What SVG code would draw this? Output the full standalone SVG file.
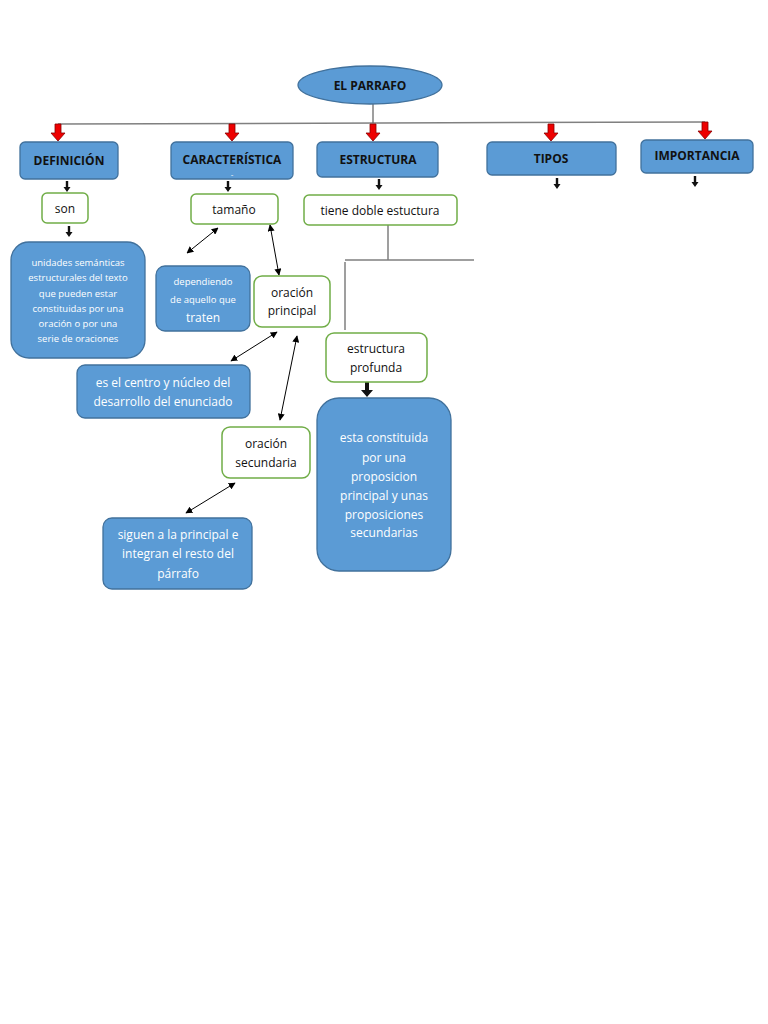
<svg xmlns="http://www.w3.org/2000/svg" width="768" height="1024" viewBox="0 0 768 1024">
<style>
text{font-family:"Open Sans","Liberation Sans",sans-serif;text-anchor:middle}
.b{fill:#5b9bd5;stroke:#41719c;stroke-width:1.3}
.g{fill:#fff;stroke:#70ad47;stroke-width:1.5}
.h{font-size:12px;font-weight:bold;fill:#111}
.w{fill:#fff}
.k{fill:#111}
.ln{stroke:#808080;stroke-width:1.5;fill:none}
.da{stroke:#000;stroke-width:1;marker-start:url(#ah);marker-end:url(#ah)}
</style>
<defs>
<marker id="ah" viewBox="0 0 10 10" refX="9" refY="5" markerWidth="7" markerHeight="7" orient="auto-start-reverse"><path d="M0,0L10,5L0,10z" fill="#000"/></marker>
<g id="ra"><path d="M-3,0h6v9h4l-7,8l-7,-8h4z" fill="#e00" stroke="#800" stroke-width="0.8"/></g>
<g id="ba"><path d="M-1.2,0h2.4v6h2.3l-3.5,5l-3.5,-5h2.3z" fill="#111"/></g>
</defs>
<rect width="768" height="1024" fill="#fff"/>
<g id="connectors">
<path class="ln" d="M373,104V124M58,124L705,122M388,225V260M345,260H474M345,262V330"/>
<use href="#ra" x="58" y="124"/><use href="#ra" x="232" y="124"/><use href="#ra" x="373" y="124"/><use href="#ra" x="551" y="124"/><use href="#ra" x="705" y="122"/>
<use href="#ba" x="67" y="181"/><use href="#ba" x="228" y="181"/><use href="#ba" x="379" y="179"/><use href="#ba" x="557" y="178"/><use href="#ba" x="695" y="176"/><use href="#ba" x="69" y="226"/>
<path d="M365,382h4v8h4l-6,7l-6,-7h4z" fill="#111"/>
<line class="da" x1="187" y1="253" x2="218" y2="228"/>
<line class="da" x1="270" y1="225" x2="279" y2="275"/>
<line class="da" x1="231" y1="361" x2="277" y2="332"/>
<line class="da" x1="297" y1="336" x2="280" y2="420"/>
<line class="da" x1="186" y1="513" x2="235" y2="483"/>
</g>
<g id="n-root"><ellipse class="b" cx="370" cy="85" rx="72" ry="19"/><text class="h" x="370" y="90">EL PARRAFO</text></g>
<g id="n-def"><rect class="b" x="20" y="142" width="98" height="37" rx="5"/><text class="h" x="69" y="165">DEFINICIÓN</text></g>
<g id="n-car"><rect class="b" x="171" y="142" width="122" height="37" rx="5"/><text class="h" x="232" y="164">CARACTERÍSTICA</text><text class="w" x="232" y="177" font-size="8">-</text></g>
<g id="n-est"><rect class="b" x="317" y="142" width="121" height="35" rx="5"/><text class="h" x="378" y="164">ESTRUCTURA</text></g>
<g id="n-tip"><rect class="b" x="487" y="142" width="129" height="33" rx="5"/><text class="h" x="551" y="163">TIPOS</text></g>
<g id="n-imp"><rect class="b" x="641" y="140" width="112" height="33" rx="5"/><text class="h" x="697" y="160">IMPORTANCIA</text></g>
<g id="n-son"><rect class="g" x="42" y="193" width="46" height="30" rx="5"/><text class="k" x="65" y="213" font-size="12">son</text></g>
<g id="n-tam"><rect class="g" x="191" y="194" width="87" height="30" rx="5"/><text class="k" x="234" y="214" font-size="12">tamaño</text></g>
<g id="n-tie"><rect class="g" x="304" y="195" width="153" height="30" rx="5"/><text class="k" x="380" y="215" font-size="12">tiene doble estuctura</text></g>
<g id="n-uni"><rect class="b" x="11" y="242" width="134" height="116" rx="18"/>
<text class="w" font-size="9.5"><tspan x="78" y="266">unidades semánticas</tspan><tspan x="78" y="281">estructurales del texto</tspan><tspan x="78" y="297">que pueden estar</tspan><tspan x="78" y="312">constituidas por una</tspan><tspan x="78" y="327">oración o por una</tspan><tspan x="78" y="342">serie de oraciones</tspan></text></g>
<g id="n-dep"><rect class="b" x="156" y="266" width="94" height="65" rx="9"/>
<text class="w" font-size="9.5"><tspan x="203" y="285">dependiendo</tspan><tspan x="203" y="303">de aquello que</tspan></text><text class="w" x="203" y="322" font-size="12">traten</text></g>
<g id="n-op"><rect class="g" x="254" y="276" width="76" height="51" rx="8"/>
<text class="k" font-size="12"><tspan x="292" y="297">oración</tspan><tspan x="292" y="315">principal</tspan></text></g>
<g id="n-ep"><rect class="g" x="326" y="333" width="101" height="49" rx="8"/>
<text class="k" font-size="12"><tspan x="376" y="353">estructura</tspan><tspan x="376" y="372">profunda</tspan></text></g>
<g id="n-cen"><rect class="b" x="77" y="365" width="173" height="53" rx="8"/>
<text class="w" font-size="12"><tspan x="163" y="387">es el centro y núcleo del</tspan><tspan x="163" y="406">desarrollo del enunciado</tspan></text></g>
<g id="n-os"><rect class="g" x="222" y="427" width="88" height="51" rx="8"/>
<text class="k" font-size="12"><tspan x="266" y="448">oración</tspan><tspan x="266" y="467">secundaria</tspan></text></g>
<g id="n-con"><rect class="b" x="317" y="398" width="134" height="173" rx="22"/>
<text class="w" font-size="12"><tspan x="384" y="442">esta constituida</tspan><tspan x="384" y="462">por una</tspan><tspan x="384" y="481">proposicion</tspan><tspan x="384" y="500">principal y unas</tspan><tspan x="384" y="519">proposiciones</tspan><tspan x="384" y="537">secundarias</tspan></text></g>
<g id="n-sig"><rect class="b" x="103" y="518" width="149" height="71" rx="9"/>
<text class="w" font-size="12"><tspan x="178" y="539">siguen a la principal e</tspan><tspan x="178" y="558">integran el resto del</tspan><tspan x="178" y="578">párrafo</tspan></text></g>
</svg>
